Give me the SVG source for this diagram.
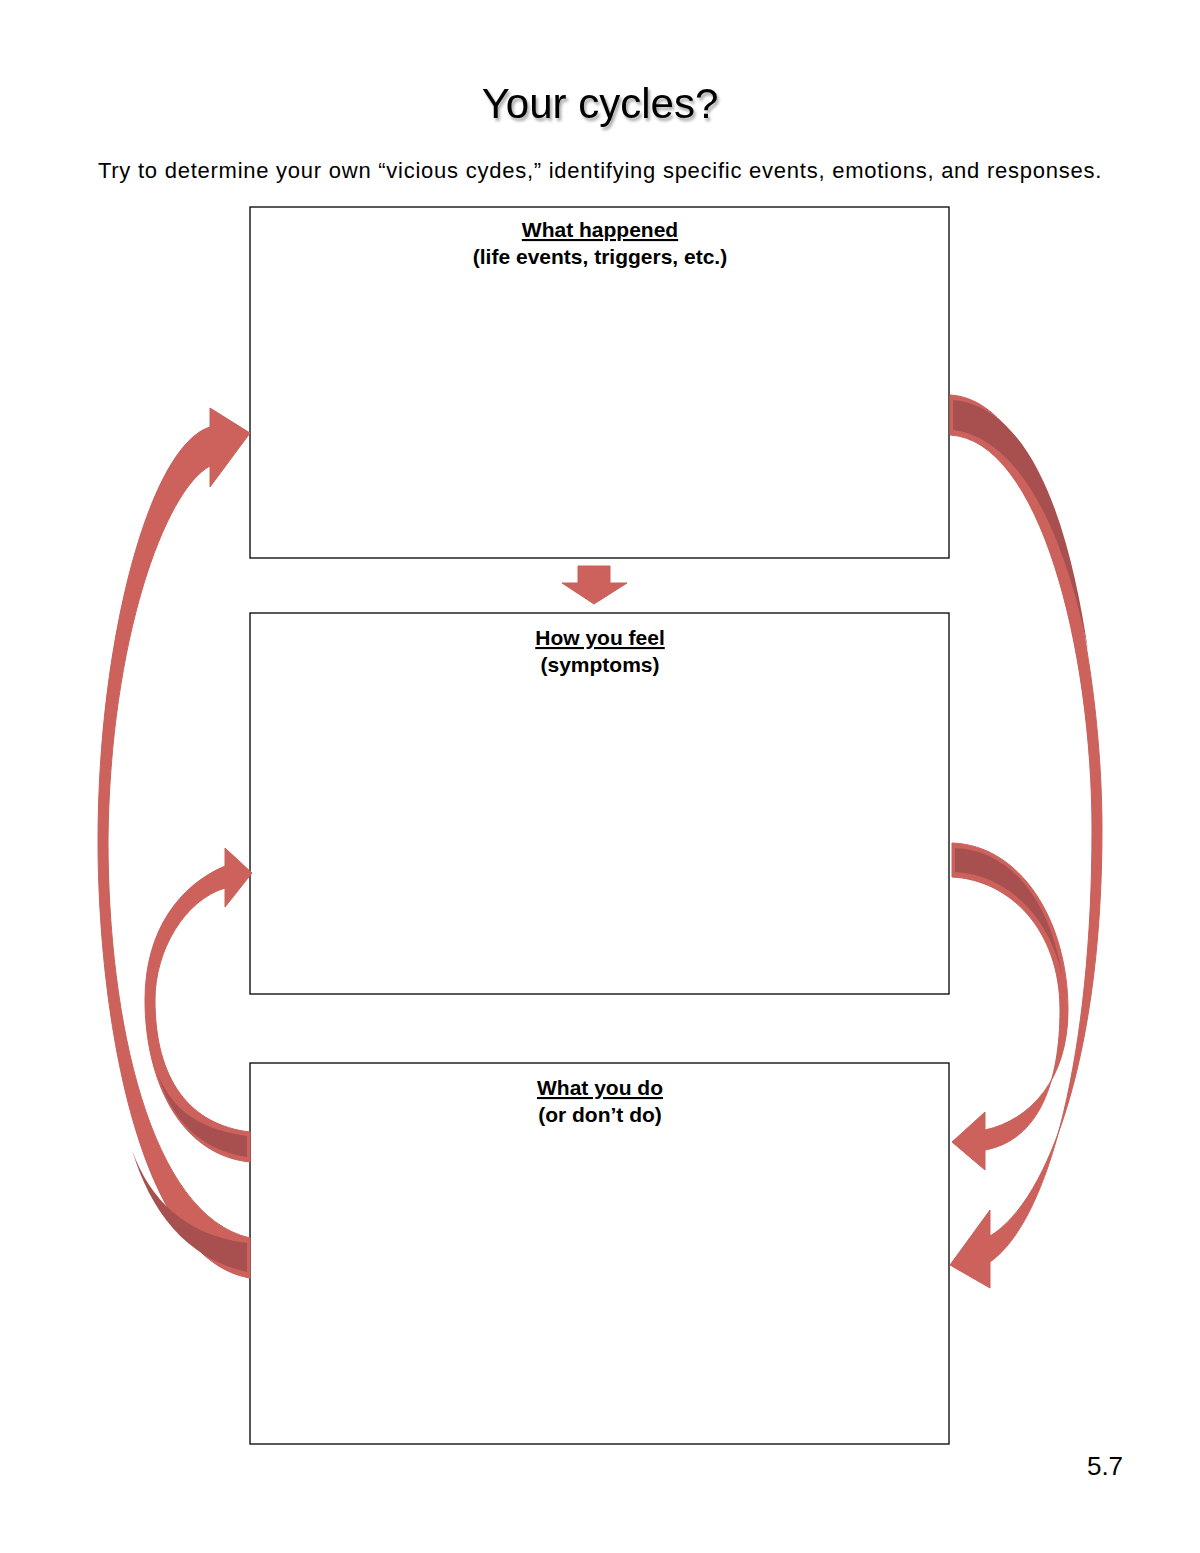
<svg xmlns="http://www.w3.org/2000/svg" width="1200" height="1553" viewBox="0 0 1200 1553">
<defs><style>
.box{fill:#fff;stroke:#000;stroke-width:1.3}
.arr{fill:#cd625c;stroke:#c9605a;stroke-width:1}
.dark{fill:#a85050}
.t{font-family:"Liberation Sans",Arial,sans-serif;text-anchor:middle;fill:#000}
.h{font-size:21px;font-weight:bold;text-decoration:underline}
.s{font-size:21px;font-weight:bold}
</style>
<filter id="sh"><feDropShadow dx="2" dy="3" stdDeviation="1.5" flood-color="#000" flood-opacity="0.35"/></filter></defs>
<rect width="1200" height="1553" fill="#fff"/>
<text class="t" x="600" y="118" font-size="42" filter="url(#sh)">Your cycles?</text>
<text class="t" x="600" y="178" font-size="22" letter-spacing="0.75">Try to determine your own “vicious cydes,” identifying specific events, emotions, and responses.</text>
<g id="n1"><rect class="box" x="250" y="207" width="699" height="351"/>
<text class="t h" x="600" y="237">What happened</text><text class="t s" x="600" y="264">(life events, triggers, etc.)</text></g>
<g id="n2"><rect class="box" x="250" y="613" width="699" height="381"/>
<text class="t h" x="600" y="645">How you feel</text><text class="t s" x="600" y="672">(symptoms)</text></g>
<g id="n3"><rect class="box" x="250" y="1063" width="699" height="381"/>
<text class="t h" x="600" y="1095">What you do</text><text class="t s" x="600" y="1122">(or don’t do)</text></g>
<g id="connectors">
<path class="arr" d="M578,566 H610 V583 H627 L594,604 L562,583 H578 Z"/>
<path class="arr" d="M250,1238 L250,1278 C140,1260 98,1020 98,840 C98,640 150,445 210,427 L210,408 L250,433 L210,487 L210,466 C165,490 110,640 108,840 C108,1020 150,1215 250,1238 Z"/>
<path class="dark" d="M247,1243 L247,1272 C185,1258 150,1210 132,1150 C150,1200 185,1235 247,1243 Z"/>
<path class="arr" d="M250,1132 L250,1162 C180,1155 145,1080 145,1000 C145,930 180,885 225,866 L225,848 L252,873 L225,907 L225,888 C185,900 155,950 155,1000 C155,1080 190,1125 250,1132 Z"/>
<path class="dark" d="M247,1136 L247,1157 C200,1150 172,1120 158,1075 C175,1115 205,1130 247,1136 Z"/>
<path class="arr" d="M950,395 C1050,400 1102,650 1102,830 C1102,1050 1050,1200 990,1236 L990,1210 L950,1265 L990,1288 L990,1262 C1050,1220 1092,1050 1092,830 C1092,650 1040,440 950,435 Z"/>
<path class="dark" d="M953,400 L953,430 C1030,440 1070,560 1088,650 C1073,550 1040,408 953,400 Z"/>
<path class="arr" d="M952,843 C1020,845 1068,920 1068,1010 C1068,1080 1030,1120 985,1130 L985,1112 L952,1142 L985,1170 L985,1150 C1040,1140 1060,1080 1060,1010 C1060,930 1010,880 952,877 Z"/>
<path class="dark" d="M955,848 L955,872 C1010,875 1050,920 1062,975 C1050,900 1010,850 955,848 Z"/>
</g>
<text class="t" x="1105" y="1475" font-size="26">5.7</text>
</svg>
